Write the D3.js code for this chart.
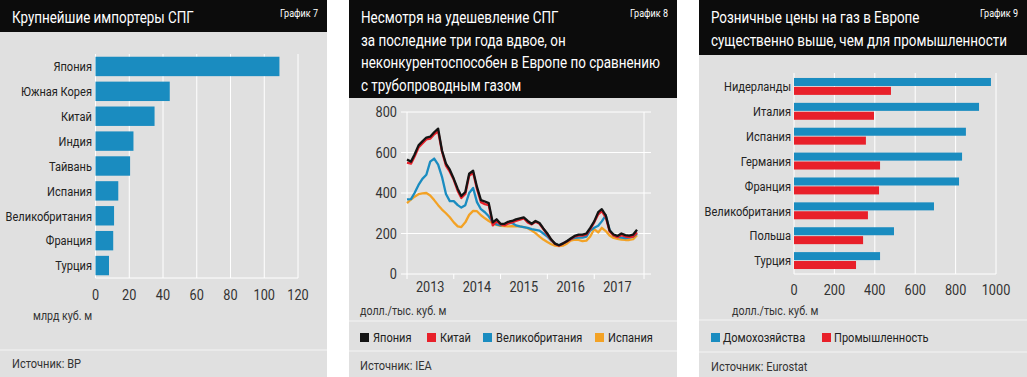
<!DOCTYPE html>
<html>
<head>
<meta charset="utf-8">
<script src="https://cdn.jsdelivr.net/npm/d3@7"></script>
<style>
  body { margin: 0; background: #fff; }
  svg { display: block; }
  text { font-family: "Roboto", "Liberation Sans", sans-serif; fill: #222; }
</style>
</head>
<body>
<svg id="chart" width="1027" height="377"></svg>
<script>
// --- data: chart 7, biggest LNG importers
const importers = ["Япония", "Южная Корея", "Китай", "Индия", "Тайвань", "Испания", "Великобритания", "Франция", "Турция"];
const importVolumes = [109, 44, 35, 22.5, 20.5, 13.5, 11, 10.5, 8];
const importTicks = [0, 20, 40, 60, 80, 100, 120];

// --- data: chart 8, monthly LNG prices Jan 2013 .. Dec 2017
const priceNames = ["Япония", "Китай", "Великобритания", "Испания"];
const priceJapan = [565, 555, 590, 635, 655, 674, 678, 700, 718, 610, 545, 515, 470, 420, 385, 405, 495, 510, 430, 365,
  358, 350, 255, 270, 248, 248, 258, 262, 270, 275, 280, 262, 248, 262, 252, 225, 200, 170, 150, 142,
  150, 162, 175, 188, 194, 194, 200, 228, 260, 305, 320, 290, 215, 195, 188, 200, 192, 190, 195, 218];
const priceChina = [550, 545, 580, 625, 645, 665, 668, 690, 705, 605, 535, 505, 465, 410, 375, 395, 485, 500, 420, 355,
  345, 340, 240, 260, 245, 240, 250, 255, 262, 268, 275, 255, 245, 258, 248, 222, 195, 168, 148, 140,
  150, 160, 172, 185, 190, 190, 195, 222, 255, 295, 310, 280, 210, 190, 182, 192, 185, 182, 185, 205];
const priceUK = [368, 370, 400, 440, 470, 490, 555, 570, 540, 480, 395, 360, 360, 340, 328, 340, 400, 425, 355, 320,
  305, 285, 255, 245, 240, 245, 250, 252, 240, 235, 232, 228, 222, 218, 214, 200, 185, 165, 150, 142,
  152, 162, 172, 178, 180, 180, 185, 215, 228, 238, 260, 290, 218, 190, 183, 180, 177, 180, 185, 200];
const priceSpain = [350, 368, 382, 394, 398, 400, 388, 365, 340, 318, 300, 280, 255, 235, 232, 255, 292, 312, 310, 290,
  275, 262, 250, 242, 238, 236, 235, 236, 235, 235, 232, 226, 215, 202, 185, 170, 158, 147, 140, 138,
  140, 150, 165, 170, 168, 162, 165, 185, 222, 205, 228, 212, 190, 178, 174, 170, 168, 168, 172, 192];
const priceYears = [2013, 2014, 2015, 2016, 2017];
const priceTicks = [0, 200, 400, 600, 800];

// --- data: chart 9, retail vs industrial gas prices
const retailCountries = ["Нидерланды", "Италия", "Испания", "Германия", "Франция", "Великобритания", "Польша", "Турция"];
const householdPrices = [975, 916, 851, 832, 817, 693, 495, 426];
const industryPrices = [480, 396, 356, 426, 421, 366, 342, 307];
const retailTicks = [0, 200, 400, 600, 800, 1000];

const BG = "#e0e0e0";
const BLUE = "#1a8cc0";
const RED = "#e8202a";
const ORANGE = "#f3a225";
const BLACK = "#141414";
const K = 0.82;  // the original uses a condensed face: squeeze Roboto horizontally
const KT = 0.79; // titles are squeezed a bit more

const svg = d3.select("#chart");

// condensed text helper, x/y may be functions for joins
function ctext(sel, x, y, size, anchor, fill, k) {
  const fx = typeof x === "function" ? x : () => x;
  const fy = typeof y === "function" ? y : () => y;
  return sel.attr("transform", (d, i) => `translate(${fx(d, i)},${fy(d, i)}) scale(${k || K},1)`)
    .attr("text-anchor", anchor || "start")
    .style("font-size", size + "px")
    .style("fill", fill || "#222");
}

function panel(x0, x1, headH, titleLines, tag) {
  const g = svg.append("g");
  g.append("rect").attr("x", x0).attr("y", 0).attr("width", x1 - x0).attr("height", 377).attr("fill", BG);
  g.append("rect").attr("x", x0).attr("y", 0).attr("width", x1 - x0).attr("height", headH).attr("fill", "#0c0c0c");
  titleLines.forEach((t, i) => {
    ctext(g.append("text").text(t), x0 + 12, 23 + i * 22.5, 17, "start", "#fff", KT);
  });
  ctext(g.append("text").text(tag), x1 - 9, 17, 11, "end", "#fff");
  return g;
}

function sepLine(g, x0, x1, y) {
  g.append("line").attr("x1", x0).attr("x2", x1).attr("y1", y).attr("y2", y)
    .attr("stroke", "#f4f4f4").attr("stroke-width", 1.2);
}

// ================= chart 7 =================
{
  const g = panel(0, 327, 32, ["Крупнейшие импортеры СПГ"], "График 7");
  const x = d3.scaleLinear().domain([0, 120]).range([95.5, 298]);
  const y = d3.scaleBand().domain(importers).range([54, 278]).paddingInner(0.22).paddingOuter(0.11);

  g.selectAll(".grid").data(importTicks).join("line")
    .attr("x1", d => x(d)).attr("x2", d => x(d)).attr("y1", 54).attr("y2", 278)
    .attr("stroke", "#fff").attr("stroke-width", 1);
  g.append("line").attr("x1", x(0)).attr("x2", x(120)).attr("y1", 278).attr("y2", 278).attr("stroke", "#fff");

  g.selectAll(".bar").data(importers).join("rect")
    .attr("x", x(0)).attr("y", d => y(d)).attr("height", y.bandwidth())
    .attr("width", (d, i) => x(importVolumes[i]) - x(0)).attr("fill", BLUE);

  ctext(g.selectAll(".cat").data(importers).join("text").text(d => d).attr("dy", "0.35em"),
    92, d => y(d) + y.bandwidth() / 2, 13.5, "end");

  ctext(g.selectAll(".tick").data(importTicks).join("text").text(d => d).attr("dy", "0.35em"),
    d => x(d), 295, 15.5, "middle", "#333");

  ctext(g.append("text").text("млрд куб. м").attr("dy", "0.35em"), 33, 315, 13, "start", "#333");
  sepLine(g, 0, 327, 350);
  ctext(g.append("text").text("Источник: BP").attr("dy", "0.35em"), 12, 363, 13.5, "start", "#333");
}

// ================= chart 8 =================
{
  const g = panel(349, 677, 98, [
    "Несмотря на удешевление СПГ",
    "за последние три года вдвое, он",
    "неконкурентоспособен в Европе по сравнению",
    "с трубопроводным газом"
  ], "График 8");

  const x = d3.scaleTime().domain([new Date(2013, 0, 1), new Date(2018, 0, 1)]).range([407, 641]);
  const y = d3.scaleLinear().domain([0, 800]).range([274, 112]);

  g.selectAll(".grid").data(priceTicks).join("line")
    .attr("x1", 401).attr("x2", 651).attr("y1", d => y(d)).attr("y2", d => y(d))
    .attr("stroke", "#fff");
  [407, 644].forEach(v => g.append("line").attr("x1", v).attr("x2", v).attr("y1", 112).attr("y2", 279).attr("stroke", "#fff"));
  g.selectAll(".ytick").data(priceYears.slice(1)).join("line")
    .attr("x1", d => x(new Date(d, 0, 1))).attr("x2", d => x(new Date(d, 0, 1)))
    .attr("y1", 274).attr("y2", 279).attr("stroke", "#fff");

  ctext(g.selectAll(".ylab").data(priceTicks).join("text").text(d => d).attr("dy", "0.35em"),
    397, d => y(d), 15.5, "end", "#333");
  ctext(g.selectAll(".xlab").data(priceYears).join("text").text(d => d).attr("dy", "0.35em"),
    d => x(new Date(d, 6, 1)), 287, 15.5, "middle", "#333");

  const months = priceJapan.map((_, i) => new Date(2013, i, 1));
  const line = d3.line().x((d, i) => x(months[i])).y(d => y(d));
  const series = [[priceSpain, ORANGE], [priceUK, BLUE], [priceChina, RED], [priceJapan, BLACK]];
  series.forEach(([vals, col]) => {
    g.append("path").datum(vals).attr("d", line).attr("fill", "none")
      .attr("stroke", col).attr("stroke-width", 2.3).attr("stroke-linejoin", "round");
  });

  ctext(g.append("text").text("долл./тыс. куб. м").attr("dy", "0.35em"), 360, 310, 13, "start", "#333");
  sepLine(g, 349, 677, 321);
  const legX = [360, 427, 483, 595];
  const legCol = [BLACK, RED, BLUE, ORANGE];
  priceNames.forEach((n, i) => {
    g.append("rect").attr("x", legX[i]).attr("y", 333).attr("width", 9).attr("height", 9).attr("fill", legCol[i]);
    ctext(g.append("text").text(n).attr("dy", "0.35em"), legX[i] + 13, 337.5, 13.5);
  });
  sepLine(g, 349, 677, 351);
  ctext(g.append("text").text("Источник: IEA").attr("dy", "0.35em"), 360, 365, 13.5, "start", "#333");
}

// ================= chart 9 =================
{
  const g = panel(699, 1027, 55, [
    "Розничные цены на газ в Европе",
    "существенно выше, чем для промышленности"
  ], "График 9");

  const x = d3.scaleLinear().domain([0, 1000]).range([794, 996]);
  const y = d3.scaleBand().domain(retailCountries).range([73, 274]).paddingInner(0.32).paddingOuter(0.2);
  const sub = d3.scaleBand().domain([0, 1]).range([0, y.bandwidth()]).paddingInner(0.1);

  g.selectAll(".grid").data(retailTicks).join("line")
    .attr("x1", d => x(d)).attr("x2", d => x(d)).attr("y1", 73).attr("y2", 274).attr("stroke", "#fff");
  g.append("line").attr("x1", x(0)).attr("x2", x(1000)).attr("y1", 274).attr("y2", 274).attr("stroke", "#fff");

  [householdPrices, industryPrices].forEach((vals, k) => {
    g.selectAll(".b" + k).data(retailCountries).join("rect")
      .attr("x", x(0)).attr("y", d => y(d) + sub(k)).attr("height", sub.bandwidth())
      .attr("width", (d, i) => x(vals[i]) - x(0)).attr("fill", k ? RED : BLUE);
  });

  ctext(g.selectAll(".cat").data(retailCountries).join("text").text(d => d).attr("dy", "0.35em"),
    791, d => y(d) + y.bandwidth() / 2, 13.5, "end");
  ctext(g.selectAll(".tick").data(retailTicks).join("text").text(d => d).attr("dy", "0.35em"),
    d => x(d), 290, 15.5, "middle", "#333");

  ctext(g.append("text").text("долл./тыс. куб. м").attr("dy", "0.35em"), 732, 310, 13, "start", "#333");
  sepLine(g, 699, 1027, 320);
  [["Домохозяйства", BLUE, 711], ["Промышленность", RED, 822]].forEach(([n, c, lx]) => {
    g.append("rect").attr("x", lx).attr("y", 333).attr("width", 9).attr("height", 9).attr("fill", c);
    ctext(g.append("text").text(n).attr("dy", "0.35em"), lx + 12, 337.5, 13.5);
  });
  sepLine(g, 699, 1027, 352);
  ctext(g.append("text").text("Источник:  Eurostat").attr("dy", "0.35em"), 711, 366, 13.5, "start", "#333");
}
</script>
</body>
</html>
